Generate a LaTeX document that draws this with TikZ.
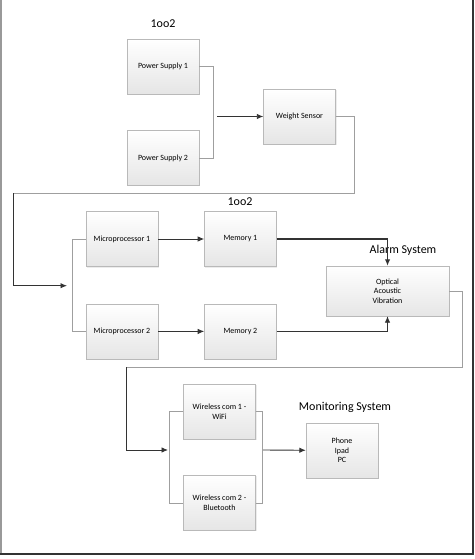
\documentclass[tikz,border=0pt]{standalone}
\usepackage{fontspec}
\setmainfont{Carlito}
\usetikzlibrary{positioning,shadows,arrows.meta}

\tikzstyle{block} = [draw=gray!55, rectangle, top color=white, bottom color=gray!20, minimum width=72pt, minimum height=55pt, align=center, font=\fontsize{8}{9.5}\selectfont, drop shadow={opacity=0.15, shadow xshift=1pt, shadow yshift=-1pt}]
\tikzstyle{title} = [font=\fontsize{12}{14}\selectfont]
\tikzstyle{wire} = [draw=gray!75, line width=0.6pt]
\tikzstyle{flow} = [draw=black!80, line width=0.9pt, ->]

\begin{document}
\begin{tikzpicture}[x=1pt, y=-1pt, >={Latex[length=6.5pt,width=5.5pt]}]
  \useasboundingbox (0,0) rectangle (474,559);
  % frame
  \draw[gray!80, line width=2pt] (1,0) -- (1,554);
  \draw[black!80, line width=2pt] (473,0) -- (473,555);
  \draw[black!80, line width=2pt] (0,554) -- (474,554);

  % power supplies and sensor
  \node [title] (lbla) at (163,24) {1oo2};
  \node [block] (ps1) at (163,66.5) {Power Supply 1};
  \node [block, below=36pt of ps1] (ps2) {Power Supply 2};
  \node [block] (ws) at (299.5,116.5) {Weight Sensor};

  % processing
  \node [title] (lblb) at (240,202) {1oo2};
  \node [block] (mp1) at (122,239) {Microprocessor 1};
  \node [block, right=46pt of mp1] (mem1) {Memory 1};
  \node [block, below=37pt of mp1] (mp2) {Microprocessor 2};
  \node [block, right=46pt of mp2] (mem2) {Memory 2};

  % alarm
  \node [title] (lblc) at (403,250) {Alarm System};
  \node [block, minimum width=123pt, minimum height=50pt] (alarm) at (387.5,291) {Optical\\Acoustic\\Vibration};

  % wireless and monitoring
  \node [block] (w1) at (219.5,411.5) {Wireless com 1 -\\WiFi};
  \node [block, below=36pt of w1] (w2) {Wireless com 2 -\\Bluetooth};
  \node [title] (lbld) at (345,407) {Monitoring System};
  \node [block] (mon) at (342,450.5) {Phone\\Ipad\\PC};

  \coordinate (psin) at (217,116.5);
  \coordinate (fb1) at (354,193);
  \coordinate (fb2) at (13,193);
  \coordinate (mpin) at (67,285.7);
  \coordinate (al1) at (462.7,367);
  \coordinate (al2) at (126.7,367);
  \coordinate (win) at (168,450);
  \coordinate (wout) at (263,450);

  \draw [wire] (ps1.east) -- ++(14,0) |- (ps2.east);
  \draw [flow] (psin) -- (ws);
  \draw [wire] (ws.east) -| (fb1) -- (fb2);
  \draw [flow] (fb2) |- (mpin);
  \draw [wire] (mp1.west) -- ++(-14,0) |- (mp2.west);
  \draw [flow] (mp1) -- (mem1);
  \draw [flow] (mp2) -- (mem2);
  \draw [flow, line width=1.3pt] (mem1.east) -| (alarm.north);
  \draw [flow] (mem2.east) -| (alarm.south);
  \draw [wire] (alarm.east) -| (al1) -- (al2);
  \draw [flow] (al2) |- (win);
  \draw [wire] (w1.west) -- ++(-14,0) |- (w2.west);
  \draw [wire] (w1.east) -- ++(7,0) |- (w2.east);
  \draw [flow] (wout) -- (mon);
\end{tikzpicture}
\end{document}
